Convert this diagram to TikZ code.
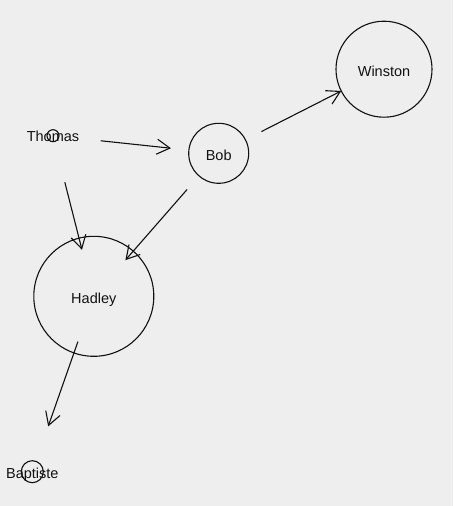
\documentclass[tikz,border=0pt]{standalone}
\usepackage{fontspec}
\setmainfont{Liberation Sans}
\usepackage{tikz}
\usetikzlibrary{arrows.meta}
\definecolor{canvasGray}{HTML}{EEEEEE}
\definecolor{inkDark}{HTML}{111111}

\begin{document}
\begin{tikzpicture}[x=1pt, y=-1pt, >={Straight Barb[length=13pt,width=15pt]},
  person/.style={circle,draw=inkDark,line width=1.1pt,inner sep=0pt},
  tag/.style={anchor=base,inner sep=0pt,text=inkDark,font=\fontsize{14.5}{17}\selectfont},
  link/.style={inkDark,line width=1.1pt,->,shorten <=48pt,shorten >=48pt}]
% --- canvas ---
\fill[canvasGray] (0,0) rectangle (453,506);
\useasboundingbox (0,0) rectangle (453,506);
% --- people ---
\node[person,minimum size=12pt]  (thomas)   at (53,135.7)  {};
\node[person,minimum size=60pt]  (bob)      at (218.7,153.3) {};
\node[person,minimum size=96pt]  (winston)  at (384,69.2)  {};
\node[person,minimum size=120pt] (hadley)   at (93.8,296.3) {};
\node[person,minimum size=22pt]  (baptiste) at (32.3,471.7) {};
% --- names ---
\node[tag] (thomas-name)   at ([yshift=-5.6pt]thomas.center)   {Thomas};
\node[tag] (bob-name)      at ([yshift=-7.2pt]bob.center)      {Bob};
\node[tag] (winston-name)  at ([yshift=-7.2pt]winston.center)  {Winston};
\node[tag] (hadley-name)   at ([yshift=-7.2pt]hadley.center)   {Hadley};
\node[tag] (baptiste-name) at ([yshift=-6.8pt]baptiste.center) {Baptiste};
% --- links ---
\draw[link] (thomas.center) -- (bob.center);
\draw[link] (thomas.center) -- (hadley.center);
\draw[link] (bob.center) -- (winston.center);
\draw[link] (bob.center) -- (hadley.center);
\draw[link] (hadley.center) -- (baptiste.center);
\end{tikzpicture}
\end{document}
